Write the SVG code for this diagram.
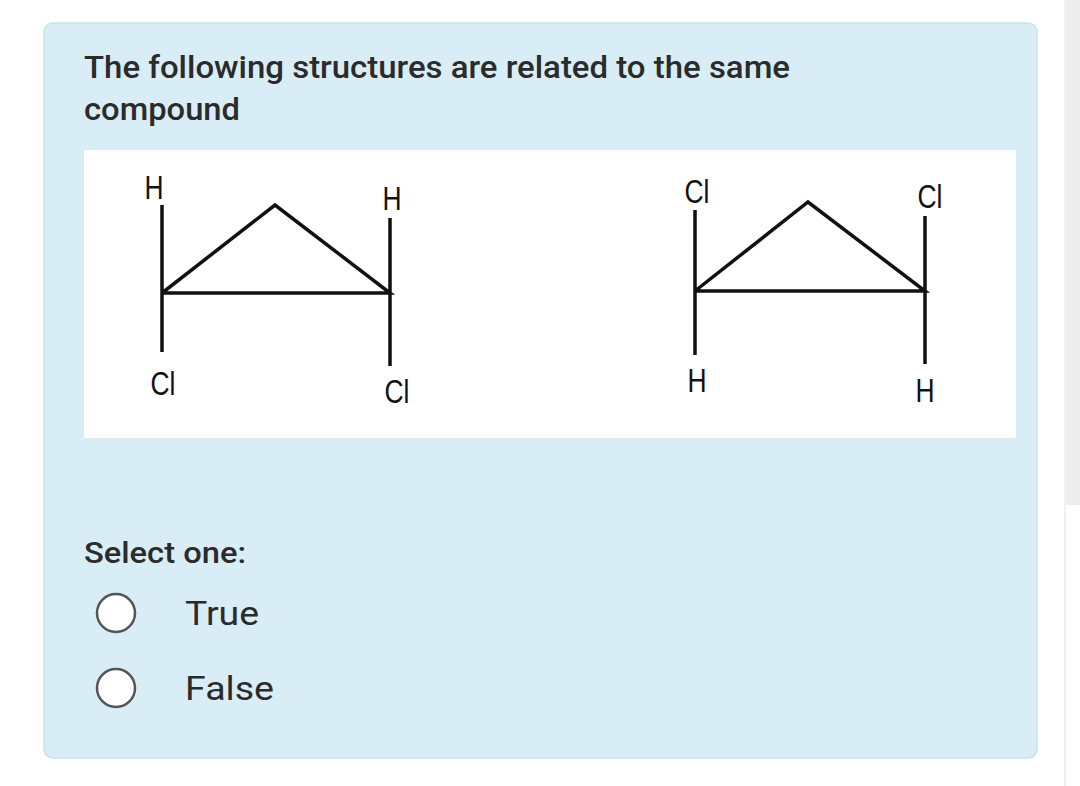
<svg xmlns="http://www.w3.org/2000/svg" width="1080" height="786" viewBox="0 0 1080 786">
<style>
.q{font-family:Roboto,"Liberation Sans",sans-serif;fill:#2b2b2b;font-weight:500}
.o{font-family:Roboto,"Liberation Sans",sans-serif;fill:#2b2b2b;font-weight:400}
.a{font-family:"Liberation Sans",Arial,sans-serif;font-size:33px;fill:#111;text-anchor:middle}
.b{stroke:#111;stroke-width:3.5;fill:none;stroke-linejoin:miter}
.r{fill:#fff;stroke:#555;stroke-width:2.5}
</style>
<rect width="1080" height="786" fill="#fff"/>
<rect x="1066" y="0" width="14" height="505" fill="#ededed"/>
<line x1="1065" y1="0" x2="1065" y2="786" stroke="#e2e2e2" stroke-width="1"/>
<rect x="44" y="23" width="993" height="735" rx="9" fill="#d9edf6" stroke="#c2e4ef" stroke-width="1.5"/>
<text class="q" x="84" y="78" font-size="31" textLength="706" lengthAdjust="spacingAndGlyphs">The following structures are related to the same</text>
<text class="q" x="84" y="120" font-size="31" textLength="156" lengthAdjust="spacingAndGlyphs">compound</text>
<rect x="84" y="150" width="932" height="288" fill="#fff"/>
<g id="mol1">
<path class="b" d="M162 205V352M162 293H390L275 205L162 293M390 218V366"/>
<text class="a" x="154" y="199" transform="translate(154 0) scale(0.8 1) translate(-154 0)">H</text>
<text class="a" x="163" y="395" transform="translate(163 0) scale(0.8 1) translate(-163 0)">Cl</text>
<text class="a" x="392" y="210" transform="translate(392 0) scale(0.8 1) translate(-392 0)">H</text>
<text class="a" x="397" y="403" transform="translate(397 0) scale(0.8 1) translate(-397 0)">Cl</text>
</g>
<g id="mol2">
<path class="b" d="M695 210V355M695 291H925L808 202L695 291M925 216V364"/>
<text class="a" x="697" y="203" transform="translate(697 0) scale(0.8 1) translate(-697 0)">Cl</text>
<text class="a" x="930" y="208" transform="translate(930 0) scale(0.8 1) translate(-930 0)">Cl</text>
<text class="a" x="697" y="392" transform="translate(697 0) scale(0.8 1) translate(-697 0)">H</text>
<text class="a" x="925" y="402" transform="translate(925 0) scale(0.8 1) translate(-925 0)">H</text>
</g>
<text class="q" x="84" y="563" font-size="29" textLength="162" lengthAdjust="spacingAndGlyphs">Select one:</text>
<g id="opt-true"><circle class="r" cx="116" cy="613" r="19"/><text class="o" x="185" y="625" font-size="33" textLength="74" lengthAdjust="spacingAndGlyphs">True</text></g>
<g id="opt-false"><circle class="r" cx="116" cy="688" r="19"/><text class="o" x="185" y="700" font-size="33" textLength="89" lengthAdjust="spacingAndGlyphs">False</text></g>
</svg>
